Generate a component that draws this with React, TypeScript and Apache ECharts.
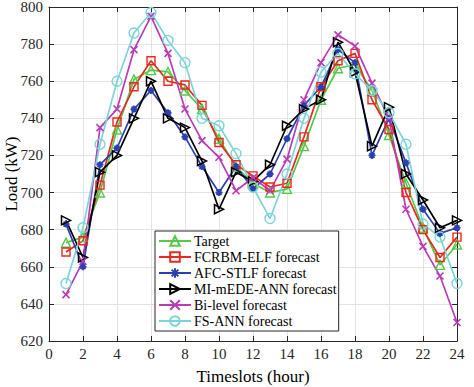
import React, { useEffect, useRef } from "react";
import * as echarts from "echarts";

const hours = [1, 2, 3, 4, 5, 6, 7, 8, 9, 10, 11, 12, 13, 14, 15, 16, 17, 18, 19, 20, 21, 22, 23, 24];

const target = [673, 676, 700, 734, 761, 766, 765, 755, 745, 729, 714, 705, 700, 702, 725, 750, 767, 769, 755, 731, 705, 681, 661, 672];
const fcrbm = [668, 674, 704, 738, 757, 771, 760, 758, 747, 727, 715, 709, 703, 705, 730, 757, 771, 775, 750, 734, 700, 680, 665, 676];
const afc = [683, 660, 715, 724, 745, 755, 743, 730, 714, 700, 714, 702, 710, 729, 747, 757, 777, 770, 720, 740, 716, 691, 678, 681];
const mimede = [685, 665, 711, 720, 740, 760, 740, 735, 717, 691, 711, 706, 715, 736, 745, 750, 781, 765, 725, 746, 710, 696, 681, 685];
const bilevel = [645, 663, 735, 745, 777, 795, 775, 745, 728, 719, 701, 708, 701, 718, 750, 770, 785, 779, 759, 740, 691, 671, 655, 630];
const fsann = [651, 681, 726, 760, 786, 797, 782, 770, 740, 736, 721, 703, 686, 710, 740, 765, 775, 764, 755, 743, 726, 683, 676, 651];

const seriesNames = [
  "Target",
  "FCRBM-ELF forecast",
  "AFC-STLF forecast",
  "MI-mEDE-ANN forecast",
  "Bi-level forecast",
  "FS-ANN forecast",
];

const xTicks = { min: 0, max: 24, interval: 2 };
const yTicks = { min: 620, max: 800, interval: 20 };

const FONT = "'Liberation Serif', 'Times New Roman', serif";
const AX = "#262626";

export default function App() {
  const ref = useRef<HTMLDivElement>(null);
  useEffect(() => {
    if (!ref.current) return;
    const chart = echarts.init(ref.current, undefined, { renderer: "svg" });
    const values = [target, fcrbm, afc, mimede, bilevel, fsann];
    const colors = ["#55c94a", "#e8291f", "#2b3fae", "#000000", "#b93cb6", "#7dd4d8"];
    const symbols = [
      "triangle",
      "rect",
      "path://M5,0L5,10M0,5L10,5M1.5,1.5L8.5,8.5M8.5,1.5L1.5,8.5",
      "path://M0,0L10,5L0,10Z",
      "path://M0,0L10,10M10,0L0,10",
      "circle",
    ];
    const sizes: any[] = [9, 8, 7, 9, 7, 10];
    const fills = [
      "rgba(255,255,255,0)",
      "rgba(255,255,255,0)",
      colors[2],
      "rgba(255,255,255,0)",
      "rgba(255,255,255,0)",
      "rgba(255,255,255,0)",
    ];
    const bw = [1.4, 1.4, 1.8, 1.5, 1.6, 1.4];
    const series = values.map((vals, i) => ({
      name: seriesNames[i],
      type: "line",
      xAxisIndex: 0,
      yAxisIndex: 0,
      data: hours.map((h, j) => [h, vals[j]]),
      symbol: symbols[i],
      symbolSize: sizes[i],
      showAllSymbol: true,
      lineStyle: { color: colors[i], width: 1.7 },
      itemStyle: { color: fills[i], borderColor: colors[i], borderWidth: bw[i] },
      emphasis: { disabled: true },
    }));
    const axisCommon = {
      axisLine: { show: true, onZero: false, lineStyle: { color: AX, width: 1 } },
      axisTick: { show: true, inside: true, length: 5, lineStyle: { color: AX } },
    };
    chart.setOption({
      animation: false,
      backgroundColor: "#ffffff",
      grid: { left: 49, right: 17, top: 7, bottom: 46, containLabel: false, outerBoundsMode: "none" },
      legend: {
        orient: "vertical",
        left: 155,
        top: 231,
        data: seriesNames,
        itemWidth: 32,
        itemHeight: 12,
        itemGap: 2,
        padding: [3, 2, 3, 3],
        borderColor: AX,
        borderWidth: 1,
        backgroundColor: "#ffffff",
        borderRadius: 0,
        textStyle: { fontFamily: FONT, fontSize: 14, color: "#000", lineHeight: 14, padding: [0, 0, 0, -2] },
      },
      xAxis: [
        {
          type: "value",
          min: xTicks.min,
          max: xTicks.max,
          interval: xTicks.interval,
          position: "bottom",
          ...axisCommon,
          axisLabel: { fontFamily: FONT, fontSize: 15, color: AX, margin: 5 },
          splitLine: { show: true, lineStyle: { color: "#e3e3e3", width: 1 } },
          name: "Timeslots (hour)",
          nameLocation: "middle",
          nameGap: 27,
          nameMoveOverlap: false,
          nameTextStyle: { fontFamily: FONT, fontSize: 17, color: "#000" },
        },
        {
          type: "value",
          min: xTicks.min,
          max: xTicks.max,
          interval: xTicks.interval,
          position: "top",
          ...axisCommon,
          axisLabel: { show: false },
          splitLine: { show: false },
        },
      ],
      yAxis: [
        {
          type: "value",
          min: yTicks.min,
          max: yTicks.max,
          interval: yTicks.interval,
          position: "left",
          ...axisCommon,
          axisLabel: { fontFamily: FONT, fontSize: 15, color: AX, margin: 6 },
          splitLine: { show: true, lineStyle: { color: "#e3e3e3", width: 1 } },
          name: "Load (kW)",
          nameLocation: "middle",
          nameGap: 29,
          nameMoveOverlap: false,
          nameTextStyle: { fontFamily: FONT, fontSize: 17, color: "#000" },
        },
        {
          type: "value",
          min: yTicks.min,
          max: yTicks.max,
          interval: yTicks.interval,
          position: "right",
          ...axisCommon,
          axisLabel: { show: false },
          splitLine: { show: false },
        },
      ],
      series,
    });
    return () => chart.dispose();
  }, []);
  return <div ref={ref} style={{ width: 474, height: 387, position: "absolute", left: 0, top: 0 }} />;
}
